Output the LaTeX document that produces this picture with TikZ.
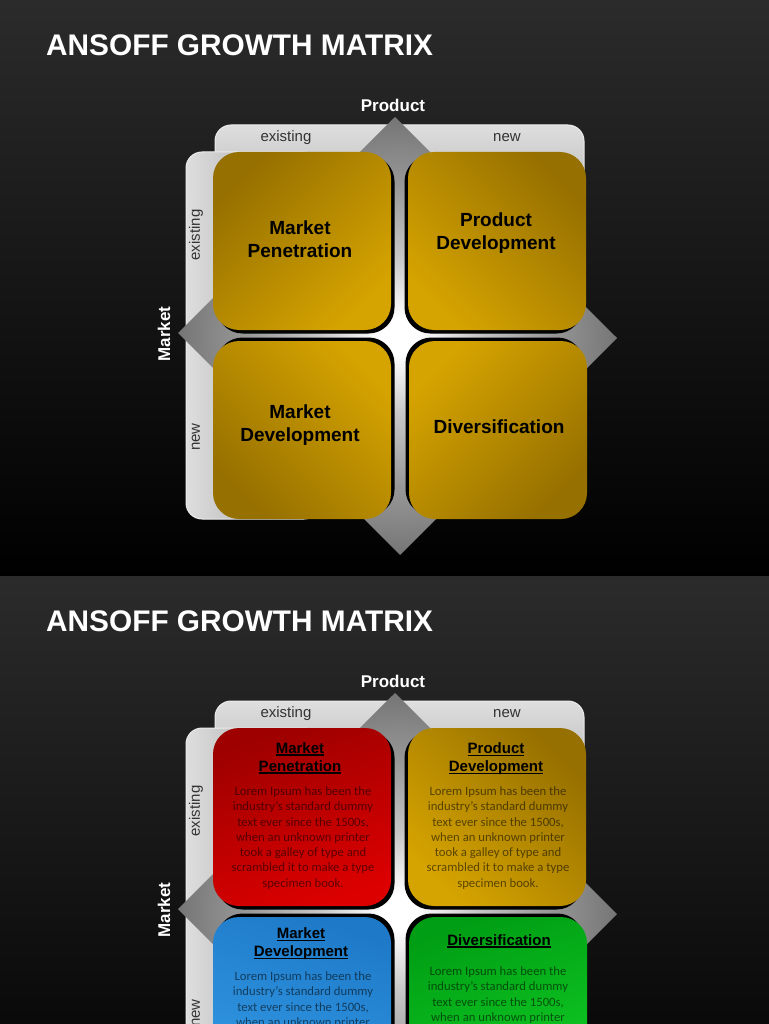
\documentclass[tikz,border=0pt]{standalone}
\usepackage{fontspec}
\setmainfont{Liberation Sans}
\newfontfamily\lorem{Carlito}
\usepackage{tikz}
\usetikzlibrary{shadows}
\usepackage{color}

\definecolor{bgtop}{HTML}{2B2B2B}
\definecolor{golddark}{RGB}{150,112,0}
\definecolor{goldlight}{RGB}{214,164,0}
\definecolor{reddark}{RGB}{158,0,0}
\definecolor{redlight}{RGB}{220,0,0}
\definecolor{bluedark}{RGB}{30,122,200}
\definecolor{bluelight}{RGB}{50,152,228}
\definecolor{greendark}{RGB}{0,158,20}
\definecolor{greenlight}{RGB}{16,202,36}
\definecolor{bandlight}{RGB}{222,222,222}
\definecolor{banddark}{RGB}{150,150,150}

% glow of the cross (tips sit at 25bp)
\pgfdeclareradialshading{glow}{\pgfpoint{0bp}{0bp}}{color(0bp)=(white); color(2bp)=(white); color(9bp)=(black!22); color(17bp)=(black!40); color(25bp)=(black!54); color(50bp)=(black!54)}

\newcommand\uword[1]{\setbox0\hbox{#1}\rlap{\rule[-2.4pt]{\wd0}{1.2pt}}\box0}

\tikzset{
  band/.style={draw=white!85!gray, line width=1pt, rounded corners=16pt},
  quad/.style={minimum width=178pt, minimum height=178pt, inner sep=0pt, rounded corners=26pt},
  shadow se/.style={drop shadow={shadow xshift=3.5pt, shadow yshift=-3.5pt, opacity=1, fill=black}},
  shadow sw/.style={drop shadow={shadow xshift=-3.5pt, shadow yshift=-3.5pt, opacity=1, fill=black}},
  shadow ne/.style={drop shadow={shadow xshift=3.5pt, shadow yshift=3.5pt, opacity=1, fill=black}},
  shadow nw/.style={drop shadow={shadow xshift=-3.5pt, shadow yshift=3.5pt, opacity=1, fill=black}},
  slidetitle/.style={text=white, font=\bfseries\fontsize{29.8}{34}\selectfont, inner sep=0pt, anchor=west},
  axislabel/.style={text=white, font=\bfseries\fontsize{17}{20}\selectfont, inner sep=0pt},
  bandlabel/.style={text=black!80, font=\fontsize{15}{18}\selectfont, inner sep=0pt},
  bigname/.style={align=center, font=\bfseries\fontsize{19}{22.6}\selectfont, inner sep=0pt},
  smallname/.style={align=center, font=\bfseries\fontsize{15}{18}\selectfont, inner sep=0pt},
  lorembody/.style={align=center, font=\lorem\fontsize{12.7}{15.3}\selectfont, text=black, text opacity=.55, inner sep=0pt},
}

\newcommand\loremtext{Lorem Ipsum has been the\\industry’s standard dummy\\text ever since the 1500s,\\when an unknown printer\\took a galley of type and\\scrambled it to make a type\\specimen book.}

\begin{document}
\begin{tikzpicture}[x=1pt, y=-1pt]
  \useasboundingbox (0,0) rectangle (768,1024);
  \clip (-6,-6) rectangle (774,1030);

  % frame of both slides
  \foreach \s/\dy in {1/0, 2/576} {
    \begin{scope}[shift={(0,\dy)}]
      \shade[top color=bgtop, bottom color=black] (-6,0) rectangle (774,576);
      \node[slidetitle] (title\s) at (46,45.5) {ANSOFF GROWTH MATRIX};

      % bands
      \draw[band, top color=bandlight, bottom color=banddark] (215,125) rectangle (584,270);
      \draw[band, left color=bandlight, right color=banddark] (186,152) rectangle (320,519);

      % cross
      \shade[shading=glow] (395,117) -- (617,338) -- (400,555) -- (178,333) -- cycle;

      % axis labels
      \node[axislabel] (product\s) at (393,105) {Product};
      \node[axislabel, rotate=90] (market\s) at (164,334) {Market};
      \node[bandlabel] (pold\s) at (286,138) {existing};
      \node[bandlabel] (pnew\s) at (507,138) {new};
      \node[bandlabel, rotate=90] (mold\s) at (196,235) {existing};
      \node[bandlabel, rotate=90] (mnew\s) at (196,437) {new};
    \end{scope}
  }

  % slide 1
  \node[quad, top color=golddark, bottom color=goldlight, shading angle=45, shadow se] (pen1) at (302,241) {};
  \node[quad, top color=golddark, bottom color=goldlight, shading angle=-45, shadow sw] (pdev1) at (497,241) {};
  \node[quad, top color=goldlight, bottom color=golddark, shading angle=-45, shadow ne] (mdev1) at (302,430) {};
  \node[quad, top color=goldlight, bottom color=golddark, shading angle=45, shadow nw] (div1) at (498,430) {};

  \node[bigname] (pentxt1) at (300,239) {Market\\Penetration};
  \node[bigname] (pdevtxt1) at (496,233) {Product\\Development};
  \node[bigname] (mdevtxt1) at (300,425) {Market\\Development};
  \node[bigname] (divtxt1) at (499,427) {Diversification};

  % slide 2
  \node[quad, top color=reddark, bottom color=redlight, shading angle=20, shadow se] (pen2) at (302,817) {};
  \node[quad, top color=golddark, bottom color=goldlight, shading angle=-45, shadow sw] (pdev2) at (497,817) {};
  \node[quad, top color=bluedark, bottom color=bluelight, shading angle=-20, shadow ne] (mdev2) at (302,1006) {};
  \node[quad, top color=greendark, bottom color=greenlight, shading angle=20, shadow nw] (div2) at (498,1006) {};

  \node[smallname] (pentxt2) at (300,758) {\uword{Market}\\\uword{Penetration}};
  \node[smallname] (pdevtxt2) at (496,759) {\uword{Product}\\\uword{Development}};
  \node[smallname] (mdevtxt2) at (301,944) {\uword{Market}\\\uword{Development}};
  \node[smallname] (divtxt2) at (499,941) {\uword{Diversification}};

  \node[lorembody] (penbody2) at (303,838) {\loremtext};
  \node[lorembody] (pdevbody2) at (498,838) {\loremtext};
  \node[lorembody] (mdevbody2) at (303,1023) {\loremtext};
  \node[lorembody] (divbody2) at (498,1018) {\loremtext};
\end{tikzpicture}
\end{document}
